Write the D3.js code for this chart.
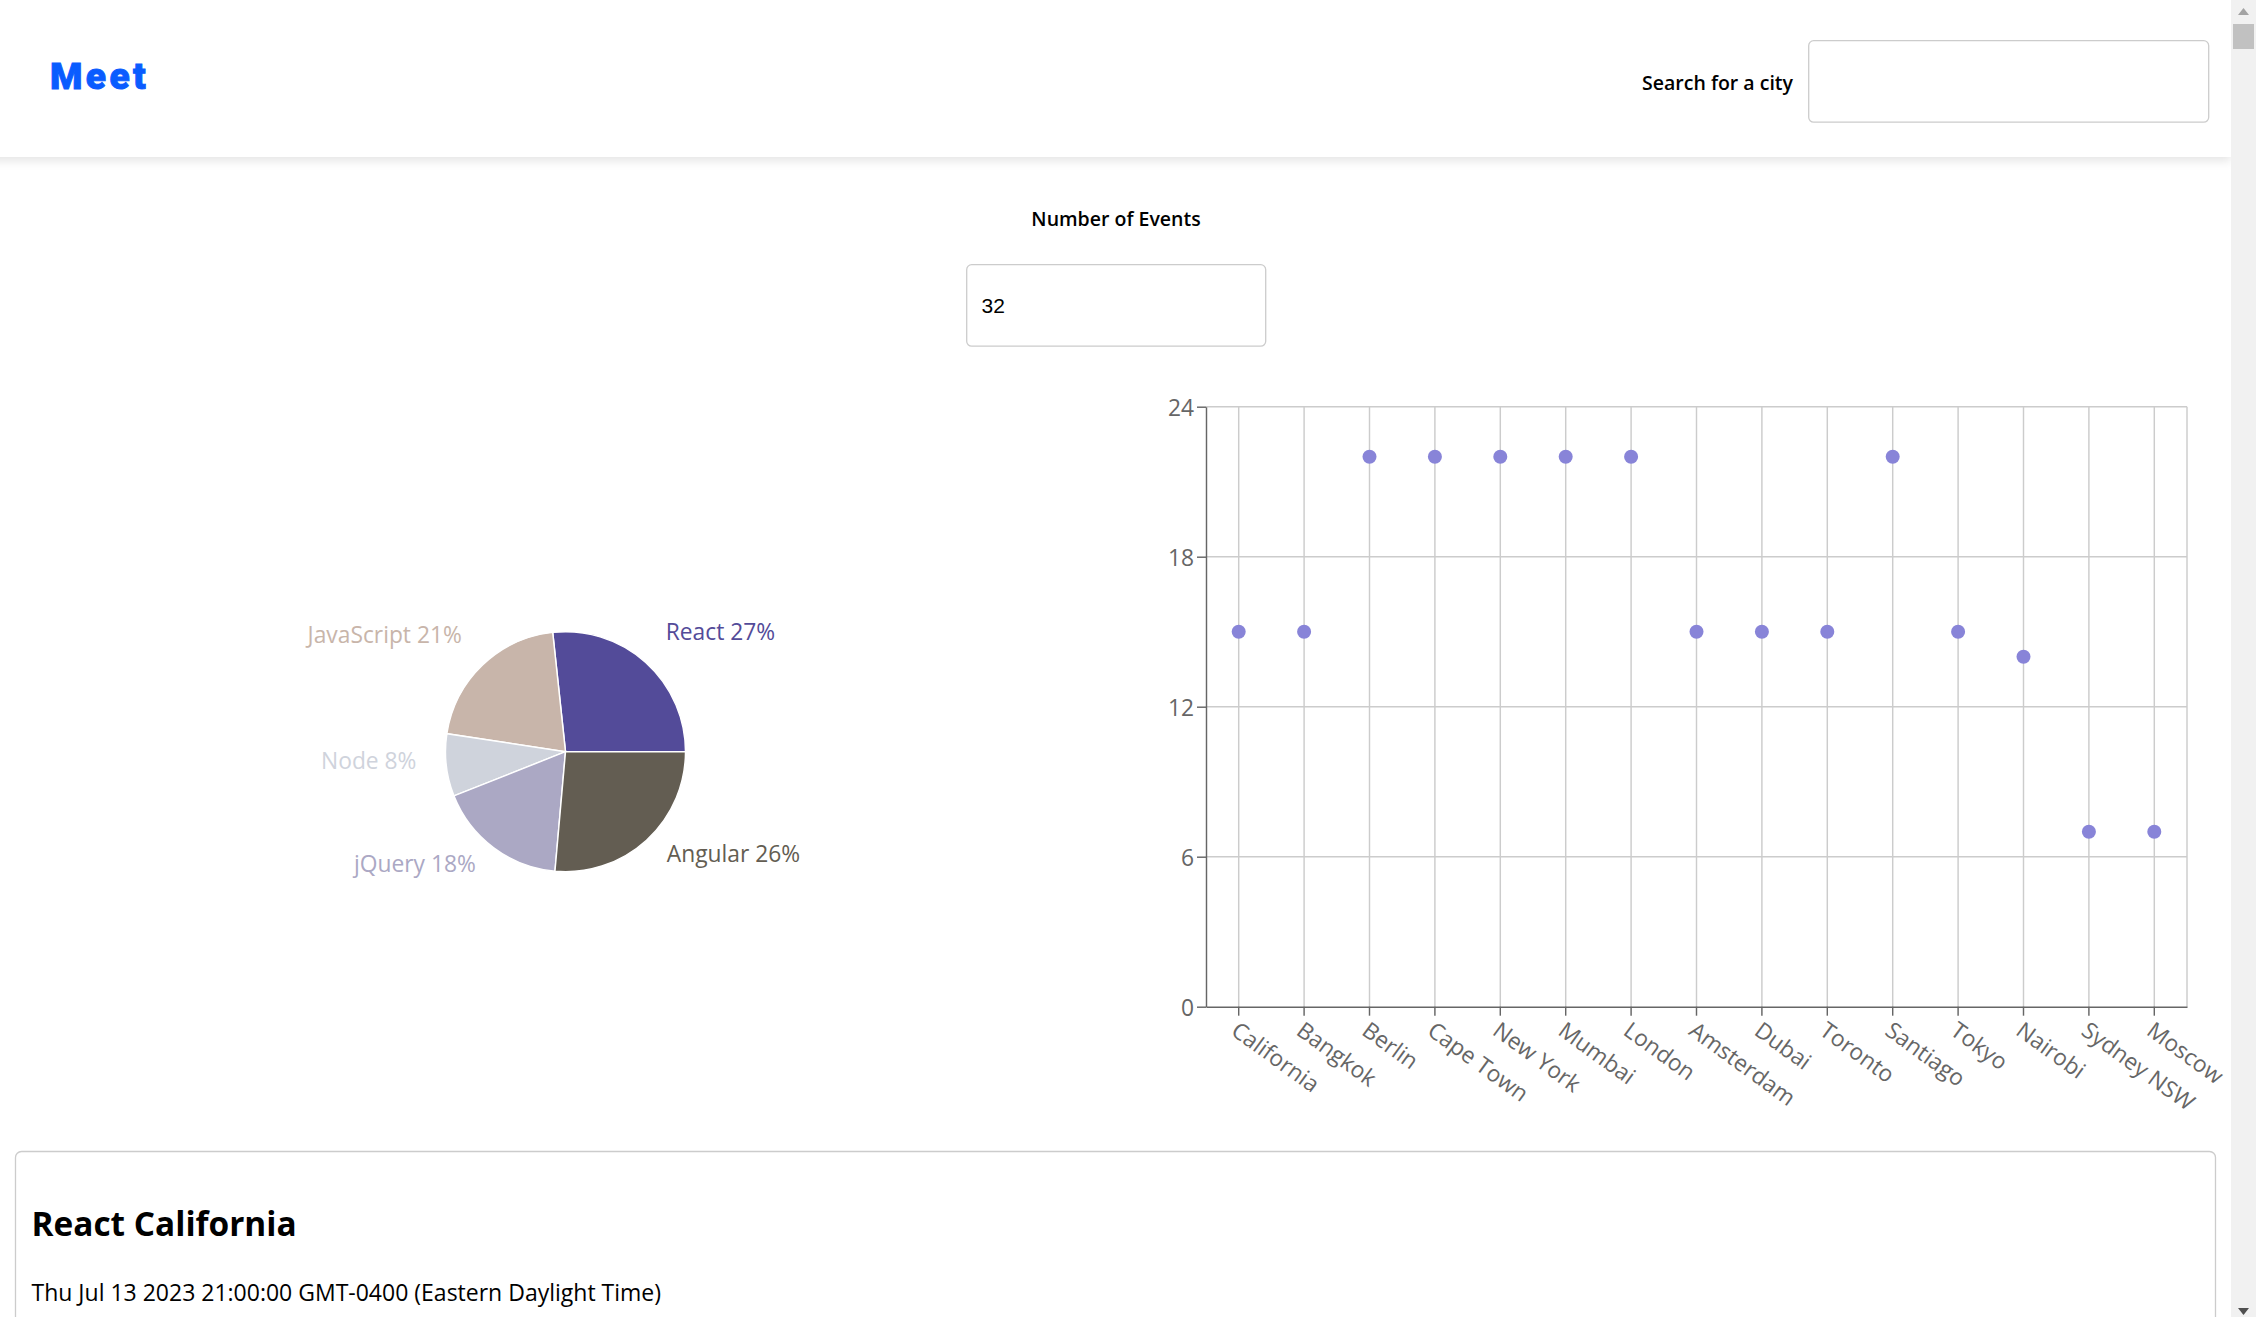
<!DOCTYPE html>
<html>
<head>
<meta charset="utf-8">
<title>Meet</title>
<script src="https://cdnjs.cloudflare.com/ajax/libs/d3/7.8.5/d3.min.js"></script>
<style>
  html, body { margin: 0; padding: 0; background: #fff; overflow: hidden; }
  svg { display: block; font-family: "Open Sans", sans-serif; }
</style>
</head>
<body>
<svg id="page" width="2256" height="1317"></svg>
<script>
// data
var cities = ["California", "Bangkok", "Berlin", "Cape Town", "New York", "Mumbai", "London",
    "Amsterdam", "Dubai", "Toronto", "Santiago", "Tokyo", "Nairobi", "Sydney NSW", "Moscow"];
var eventCounts = [15, 15, 22, 22, 22, 22, 22, 15, 15, 15, 22, 15, 14, 7, 7];
var yTicks = [0, 6, 12, 18, 24];

var genres = ["React", "JavaScript", "Node", "jQuery", "Angular"];
var genreShares = [26.7, 20.9, 8.4, 17.6, 26.4];
var genreColors = ["#534b99", "#c8b5aa", "#cfd3dc", "#aba8c4", "#635d52"];

var svg = d3.select("#page");
var textColor = "#666";
var lineColor = "#ccc";
var labelSize = 22.8;

// header bar
var shadow = svg.append("defs").append("filter").attr("id", "barShadow")
    .attr("x", "-2%").attr("y", "-10%").attr("width", "104%").attr("height", "130%");
shadow.append("feDropShadow").attr("dx", 0).attr("dy", 4).attr("stdDeviation", 5)
    .attr("flood-color", "#000").attr("flood-opacity", 0.1);

svg.append("rect").attr("x", -20).attr("y", -20).attr("width", 2251).attr("height", 177)
    .attr("fill", "#fff").attr("filter", "url(#barShadow)");

svg.append("text").attr("x", 50).attr("y", 89).text("Meet")
    .attr("font-family", "Roboto").attr("font-weight", 900).attr("font-size", 37)
    .attr("letter-spacing", 3.4).attr("fill", "#0a5cff")
    .attr("stroke", "#0a5cff").attr("stroke-width", 0.9);

function inputBox(x, y, w, h) {
    svg.append("rect").attr("x", x).attr("y", y).attr("width", w).attr("height", h)
        .attr("rx", 5).attr("fill", "#fff").attr("stroke", lineColor).attr("stroke-width", 1.3);
}

svg.append("text").attr("x", 1793).attr("y", 90).attr("text-anchor", "end").text("Search for a city")
    .attr("font-weight", 600).attr("font-size", 19.5).attr("fill", "#000");
inputBox(1808.7, 40.7, 400, 81.5);

svg.append("text").attr("x", 1116).attr("y", 226).attr("text-anchor", "middle").text("Number of Events")
    .attr("font-weight", 600).attr("font-size", 19.5).attr("fill", "#000");
inputBox(966.7, 264.7, 299, 81.5);
svg.append("text").attr("x", 981.5).attr("y", 312.5).text("32")
    .attr("font-family", "Liberation Sans").attr("font-size", 21).attr("fill", "#000");

// pie chart
var pieCenter = [565.5, 751.7];
var pieRadius = 120;
var labelRadius = 150;
var shareTotal = d3.sum(genreShares);

// start at 3 o'clock and run counter-clockwise
var pie = d3.pie().sort(null)
    .startAngle(Math.PI / 2).endAngle(Math.PI / 2 - 2 * Math.PI);
var arc = d3.arc().innerRadius(0).outerRadius(pieRadius);
var arcs = pie(genreShares);

var pieG = svg.append("g").attr("transform", "translate(" + pieCenter + ")");

pieG.selectAll("path").data(arcs).join("path")
    .attr("d", arc)
    .attr("fill", function(d, i) { return genreColors[i]; })
    .attr("stroke", "#fff").attr("stroke-width", 1.45);

pieG.selectAll("text").data(arcs).join("text")
    .attr("x", function(d) { return labelRadius * Math.sin((d.startAngle + d.endAngle) / 2); })
    .attr("y", function(d) { return -labelRadius * Math.cos((d.startAngle + d.endAngle) / 2); })
    .attr("text-anchor", function(d) {
        return Math.sin((d.startAngle + d.endAngle) / 2) > 0 ? "start" : "end";
    })
    .attr("font-size", labelSize)
    .attr("fill", function(d, i) { return genreColors[i]; })
    .text(function(d, i) {
        return genres[i] + " " + Math.round(genreShares[i] / shareTotal * 100) + "%";
    });

// scatter chart
var plot = { left: 1206, right: 2187, top: 406.7, bottom: 1006.7 };

var x = d3.scaleBand().domain(cities).range([plot.left, plot.right]);
var y = d3.scaleLinear().domain([0, 24]).range([plot.bottom, plot.top]);

var chart = svg.append("g");

// grid lines
chart.append("g").selectAll("line").data(yTicks.slice(1)).join("line")
    .attr("x1", plot.left).attr("x2", plot.right)
    .attr("y1", function(d) { return y(d); }).attr("y2", function(d) { return y(d); })
    .attr("stroke", lineColor).attr("stroke-width", 1.45);
chart.append("g").selectAll("line").data(cities).join("line")
    .attr("x1", function(d) { return x(d) + x.bandwidth() / 2; })
    .attr("x2", function(d) { return x(d) + x.bandwidth() / 2; })
    .attr("y1", plot.top).attr("y2", plot.bottom)
    .attr("stroke", lineColor).attr("stroke-width", 1.45);
chart.append("line").attr("x1", plot.right).attr("x2", plot.right)
    .attr("y1", plot.top).attr("y2", plot.bottom)
    .attr("stroke", lineColor).attr("stroke-width", 1.45);

var xAxis = chart.append("g").attr("transform", "translate(0," + plot.bottom + ")")
    .call(d3.axisBottom(x).tickSize(9).tickSizeOuter(0));
var yAxis = chart.append("g").attr("transform", "translate(" + plot.left + ",0)")
    .call(d3.axisLeft(y).tickValues(yTicks).tickSize(9).tickSizeOuter(0));

chart.selectAll(".domain, .tick line").attr("stroke", textColor).attr("stroke-width", 1.45);
chart.selectAll(".tick text").attr("fill", textColor).attr("font-size", labelSize)
    .attr("font-family", '"Open Sans", sans-serif');

yAxis.selectAll(".tick text").attr("x", -12).attr("y", 1.5);

xAxis.selectAll(".tick text")
    .attr("text-anchor", "start")
    .attr("x", 0).attr("y", 0).attr("dy", 0)
    .attr("transform", "translate(-9,27) rotate(36)");

chart.append("g").selectAll("circle").data(cities).join("circle")
    .attr("cx", function(d) { return x(d) + x.bandwidth() / 2; })
    .attr("cy", function(d, i) { return y(eventCounts[i]); })
    .attr("r", 7)
    .attr("fill", "#8884d8");

// event card, runs off the bottom of the window
svg.append("rect").attr("x", 15.5).attr("y", 1151.5).attr("width", 2200).attr("height", 300)
    .attr("rx", 6).attr("fill", "none").attr("stroke", lineColor).attr("stroke-width", 1.3);
svg.append("text").attr("x", 31.5).attr("y", 1236).text("React California")
    .attr("font-weight", 700).attr("font-size", 33.4).attr("fill", "#000");
svg.append("text").attr("x", 31.5).attr("y", 1301).text("Thu Jul 13 2023 21:00:00 GMT-0400 (Eastern Daylight Time)")
    .attr("font-size", 23).attr("fill", "#000");

// scrollbar
svg.append("rect").attr("x", 2231).attr("y", 0).attr("width", 25).attr("height", 1317).attr("fill", "#f1f1f1");
svg.append("rect").attr("x", 2233).attr("y", 24).attr("width", 21).attr("height", 25).attr("fill", "#c1c1c1");
svg.append("path").attr("d", "M2243.5 8 L2249 15 L2238 15 Z").attr("fill", "#a3a3a3");
svg.append("path").attr("d", "M2238 1308 L2249 1308 L2243.5 1315 Z").attr("fill", "#505050");
</script>
</body>
</html>
